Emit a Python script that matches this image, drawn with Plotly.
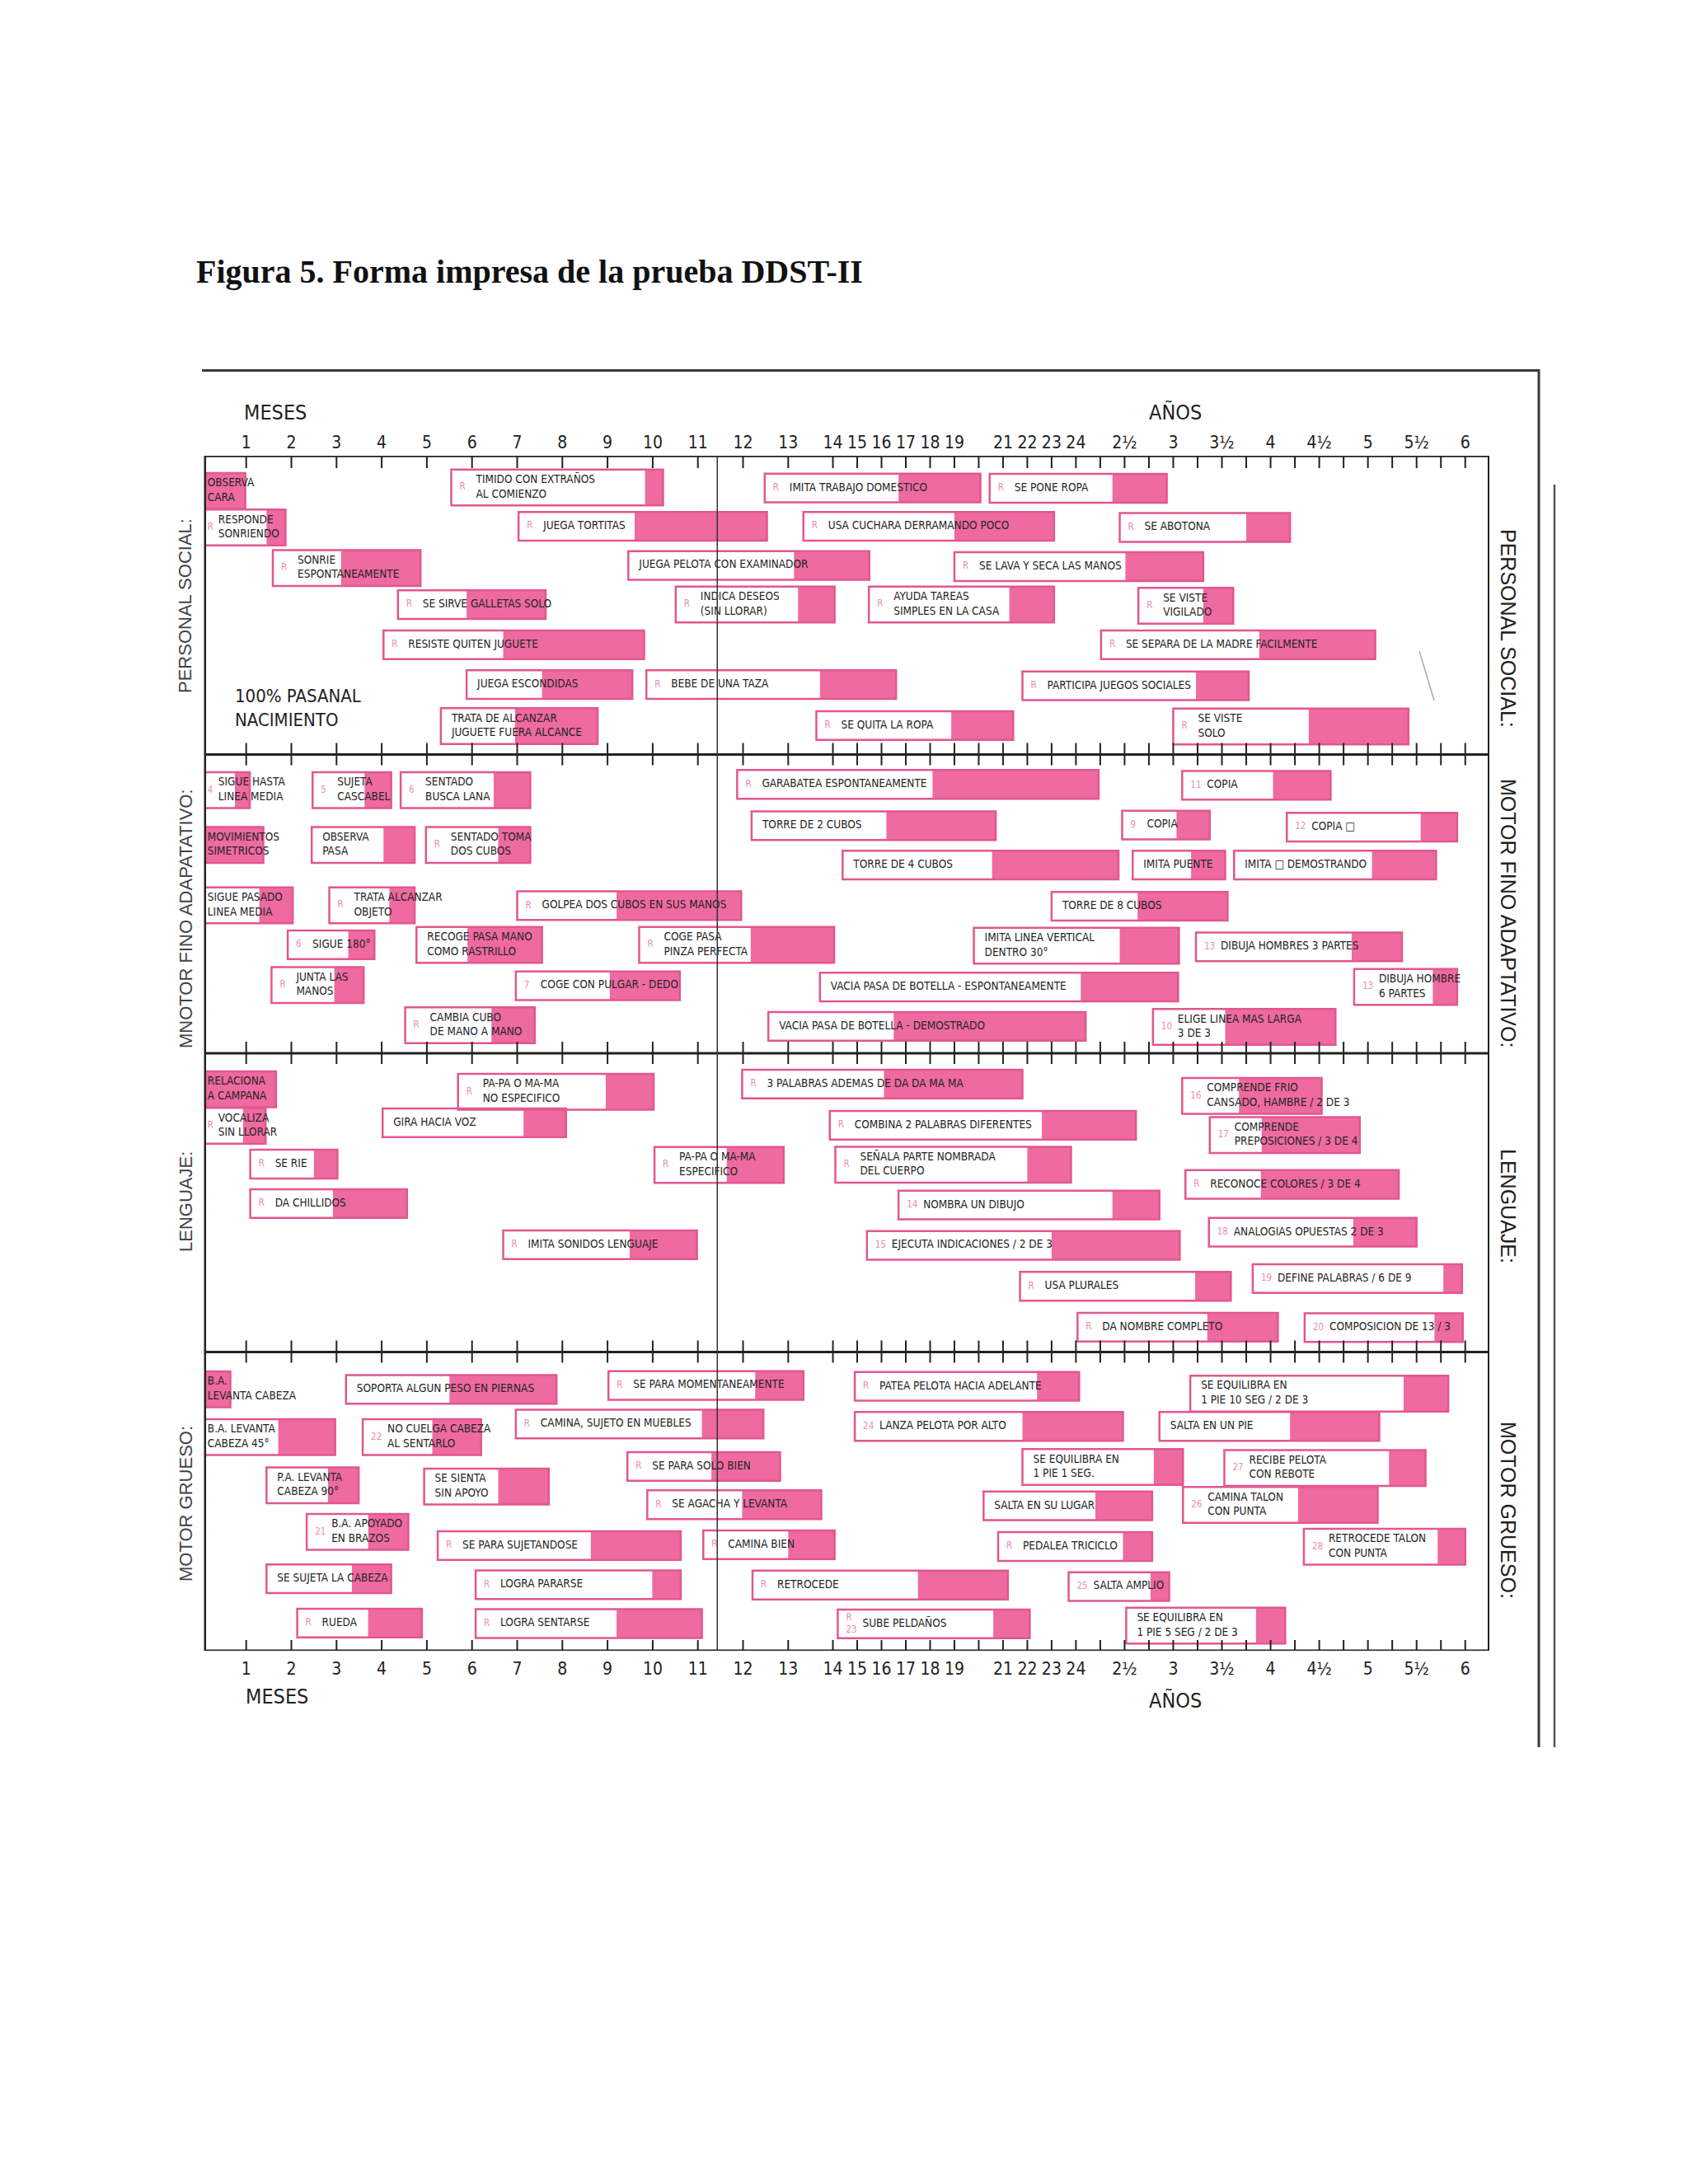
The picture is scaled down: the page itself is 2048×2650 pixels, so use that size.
import numpy as np
import plotly.graph_objects as go

W, H = 2048, 2650

# ---- DDST non-linear age scale (age in months -> axis position) ----
SCALE_AGE = [0, 1, 13, 14, 24, 72]
SCALE_POS = [0.0, 1.0, 13.0, 13.99, 19.37, 27.99]

TICK_AGES = list(range(1, 25)) + list(range(27, 73, 3))
TICK_TEXT = ([str(m) for m in range(1, 20)] + [""] + ["21", "22", "23", "24"] +
             ["", "2½", "", "3", "", "3½", "", "4", "", "4½", "", "5", "", "5½", "", "6"])
AGE_LINE = 11.43

LEFT_NAMES = ["PERSONAL SOCIAL:", "MNOTOR FINO ADAPATATIVO:", "LENGUAJE:", "MOTOR GRUESO:"]
RIGHT_NAMES = ["PERSONAL SOCIAL:", "MOTOR FINO ADAPTATIVO:", "LENGUAJE:", "MOTOR GRUESO:"]

# ---- Personal social ----
PS_LABEL = ["OBSERVA<br>CARA", "RESPONDE<br>SONRIENDO", "SONRIE<br>ESPONTANEAMENTE",
            "SE SIRVE GALLETAS SOLO", "RESISTE QUITEN JUGUETE", "JUEGA ESCONDIDAS",
            "TRATA DE ALCANZAR<br>JUGUETE FUERA ALCANCE", "TIMIDO CON EXTRAÑOS<br>AL COMIENZO",
            "JUEGA TORTITAS", "JUEGA PELOTA CON EXAMINADOR", "INDICA DESEOS<br>(SIN LLORAR)",
            "BEBE DE UNA TAZA", "IMITA TRABAJO DOMESTICO", "USA CUCHARA DERRAMANDO POCO",
            "AYUDA TAREAS<br>SIMPLES EN LA CASA", "SE QUITA LA ROPA", "SE PONE ROPA", "SE ABOTONA",
            "SE LAVA Y SECA LAS MANOS", "SE VISTE<br>VIGILADO", "SE SEPARA DE LA MADRE FACILMENTE",
            "PARTICIPA JUEGOS SOCIALES", "SE VISTE<br>SOLO"]
PS_NOTE = ["", "R", "R", "R", "R", "", "", "R", "R", "", "R", "R", "R", "R", "R", "R",
           "R", "R", "R", "R", "R", "R", "R"]
PS_A25 = [0, 0, 1.59, 4.36, 4.04, 5.88, 5.31, 5.54, 7.03, 9.46, 10.51, 9.86, 12.48, 13.34,
          15.48, 13.63, 20.45, 29.4, 19.0, 31.7, 27.1, 21.8, 36.0]
PS_A75 = [0, 1.45, 3.10, 5.88, 6.69, 7.55, 6.95, 9.83, 9.60, 13.13, 13.22, 13.71, 16.7, 19.0,
          21.26, 18.87, 28.5, 45.0, 30.1, 39.7, 46.6, 38.8, 52.7]
PS_A90 = [0.98, 1.87, 4.86, 7.63, 9.81, 9.55, 8.78, 10.23, 12.53, 15.5, 14.07, 16.6, 20.07, 23.1,
          23.1, 21.42, 35.2, 50.4, 39.7, 43.4, 60.9, 45.3, 65.0]
PS_ROW = [1.18, 2.40, 3.76, 4.98, 6.33, 7.66, 9.05, 1.06, 2.36, 3.67, 4.98, 7.66, 1.08, 2.36,
          4.98, 9.03, 1.09, 2.40, 3.71, 5.02, 6.33, 7.70, 9.06]

# ---- Motor fino adaptativo ----
MF_LABEL = ["SIGUE HASTA<br>LINEA MEDIA", "SUJETA<br>CASCABEL", "SENTADO<br>BUSCA LANA",
            "MOVIMIENTOS<br>SIMETRICOS", "OBSERVA<br>PASA", "SENTADO TOMA<br>DOS CUBOS",
            "SIGUE PASADO<br>LINEA MEDIA", "TRATA ALCANZAR<br>OBJETO", "GOLPEA DOS CUBOS EN SUS MANOS",
            "SIGUE 180°", "RECOGE PASA MANO<br>COMO RASTRILLO", "COGE PASA<br>PINZA PERFECTA",
            "JUNTA LAS<br>MANOS", "COGE CON PULGAR - DEDO", "CAMBIA CUBO<br>DE MANO A MANO",
            "GARABATEA ESPONTANEAMENTE", "TORRE DE 2 CUBOS", "TORRE DE 4 CUBOS",
            "VACIA PASA DE BOTELLA - ESPONTANEAMENTE", "VACIA PASA DE BOTELLA - DEMOSTRADO",
            "COPIA", "COPIA", "COPIA □", "IMITA PUENTE", "IMITA □ DEMOSTRANDO", "TORRE DE 8 CUBOS",
            "IMITA LINEA VERTICAL<br>DENTRO 30°", "DIBUJA HOMBRES 3 PARTES",
            "DIBUJA HOMBRE<br>6 PARTES", "ELIGE LINEA MAS LARGA<br>3 DE 3"]
MF_NOTE = ["4", "5", "6", "", "", "R", "", "R", "R", "6", "", "R", "R", "7", "R", "R", "", "",
           "", "", "11", "9", "12", "", "", "", "", "13", "13", "10"]
MF_A25 = [0, 2.47, 4.42, 0, 2.45, 4.98, 0, 2.84, 7.00, 1.92, 4.77, 9.70, 1.56, 6.97, 4.52,
          11.87, 12.19, 14.4, 13.71, 12.56, 37.1, 29.7, 50.0, 31.0, 43.5, 23.0, 19.8, 38.8, 58.3, 33.5]
MF_A75 = [0.75, 3.62, 6.48, 0, 4.04, 6.58, 1.29, 4.17, 9.20, 3.26, 5.90, 12.17, 2.95, 9.05, 6.43,
          18.1, 16.2, 20.55, 24.6, 16.5, 48.3, 36.4, 66.5, 38.2, 60.5, 31.6, 29.4, 58.0, 68.0, 42.4]
MF_A90 = [1.08, 4.21, 7.29, 1.38, 4.73, 7.29, 2.03, 4.73, 11.96, 3.84, 7.55, 14.05, 3.60, 10.60,
          7.39, 26.8, 20.7, 29.25, 36.6, 25.2, 55.4, 40.5, 71.0, 42.4, 68.4, 42.7, 36.7, 64.2, 71.0, 56.0]
MF_ROW = [11.19, 11.19, 11.19, 13.03, 13.03, 13.03, 15.05, 15.05, 15.06, 16.37, 16.37, 16.37,
          17.72, 17.74, 19.06, 11.00, 12.38, 13.70, 17.78, 19.10, 11.03, 12.36, 12.43, 13.70,
          13.70, 15.08, 16.40, 16.44, 17.78, 19.12]

# ---- Lenguaje ----
LG_LABEL = ["RELACIONA<br>A CAMPANA", "VOCALIZA<br>SIN LLORAR", "SE RIE", "DA CHILLIDOS",
            "PA-PA O MA-MA<br>NO ESPECIFICO", "GIRA HACIA VOZ", "PA-PA O MA-MA<br>ESPECIFICO",
            "IMITA SONIDOS LENGUAJE", "3 PALABRAS ADEMAS DE DA DA MA MA",
            "COMBINA 2 PALABRAS DIFERENTES", "SEÑALA PARTE NOMBRADA<br>DEL CUERPO",
            "NOMBRA UN DIBUJO", "EJECUTA INDICACIONES / 2 DE 3", "USA PLURALES",
            "DA NOMBRE COMPLETO", "COMPRENDE FRIO<br>CANSADO, HAMBRE / 2 DE 3",
            "COMPRENDE<br>PREPOSICIONES / 3 DE 4", "RECONOCE COLORES / 3 DE 4",
            "ANALOGIAS OPUESTAS 2 DE 3", "DEFINE PALABRAS / 6 DE 9", "COMPOSICION DE 13 / 3"]
LG_NOTE = ["", "R", "R", "R", "R", "", "R", "R", "R", "R", "R", "14", "15", "R", "R", "16",
           "17", "R", "18", "19", "20"]
LG_A25 = [0, 0, 1.09, 1.09, 5.69, 4.02, 10.04, 6.69, 11.98, 13.93, 14.1, 16.7, 15.4, 21.7,
          24.2, 37.1, 40.5, 37.5, 40.4, 45.8, 52.2]
LG_A75 = [0, 0.93, 2.50, 2.92, 8.96, 7.14, 11.64, 9.49, 16.1, 22.6, 22.0, 28.5, 23.0, 38.7,
          40.2, 44.1, 46.9, 46.8, 58.2, 69.3, 68.2]
LG_A90 = [1.66, 1.43, 3.02, 4.56, 10.02, 8.08, 12.90, 10.98, 21.8, 31.4, 23.8, 34.3, 36.8,
          43.1, 48.9, 54.3, 59.0, 63.8, 66.0, 71.6, 71.7]
LG_ROW = [21.21, 22.43, 23.71, 25.03, 21.29, 22.33, 23.74, 26.41, 21.03, 22.41, 23.73, 25.08,
          26.43, 27.80, 29.17, 21.43, 22.74, 24.39, 25.99, 27.54, 29.18]

# ---- Motor grueso ----
MG_LABEL = ["B.A.<br>LEVANTA CABEZA", "B.A. LEVANTA<br>CABEZA 45°", "P.A. LEVANTA<br>CABEZA 90°",
            "B.A. APOYADO<br>EN BRAZOS", "SE SUJETA LA CABEZA", "RUEDA",
            "SOPORTA ALGUN PESO EN PIERNAS", "NO CUELGA CABEZA<br>AL SENTARLO",
            "SE SIENTA<br>SIN APOYO", "SE PARA SUJETANDOSE", "LOGRA PARARSE", "LOGRA SENTARSE",
            "SE PARA MOMENTANEAMENTE", "CAMINA, SUJETO EN MUEBLES", "SE PARA SOLO BIEN",
            "SE AGACHA Y LEVANTA", "CAMINA BIEN", "RETROCEDE", "SUBE PELDAÑOS",
            "PATEA PELOTA HACIA ADELANTE", "LANZA PELOTA POR ALTO", "SE EQUILIBRA EN<br>1 PIE 1 SEG.",
            "SALTA EN SU LUGAR", "PEDALEA TRICICLO", "SALTA AMPLIO",
            "SE EQUILIBRA EN<br>1 PIE 5 SEG / 2 DE 3", "SE EQUILIBRA EN<br>1 PIE 10 SEG / 2 DE 3",
            "SALTA EN UN PIE", "RECIBE PELOTA<br>CON REBOTE", "CAMINA TALON<br>CON PUNTA",
            "RETROCEDE TALON<br>CON PUNTA"]
MG_NOTE = ["", "", "", "21", "", "R", "", "22", "", "R", "R", "R", "R", "R", "R", "R", "R", "R",
           "R<br>23", "R", "24", "", "", "R", "25", "", "", "", "27", "26", "28"]
MG_A25 = [0, 0, 1.45, 2.34, 1.45, 2.13, 3.21, 3.58, 4.94, 5.24, 6.08, 6.08, 9.02, 6.97, 9.44,
          9.88, 11.12, 12.21, 14.2, 14.9, 14.9, 21.8, 20.2, 20.8, 23.7, 30.2, 38.1, 34.3, 42.3,
          37.2, 52.1]
MG_A75 = [0, 1.71, 2.81, 3.70, 3.34, 3.70, 5.50, 5.12, 6.58, 8.63, 9.99, 9.20, 12.27, 11.09,
          11.30, 11.98, 13.00, 17.5, 20.6, 22.4, 21.8, 33.6, 26.4, 29.8, 33.2, 46.2, 64.4, 50.4,
          62.6, 51.4, 68.6]
MG_A90 = [0.65, 2.97, 3.49, 4.59, 4.21, 4.89, 7.87, 6.20, 7.70, 10.62, 10.62, 11.09, 13.34,
          12.45, 12.82, 13.74, 14.07, 21.2, 22.1, 24.4, 29.8, 37.2, 33.4, 33.4, 35.5, 49.8, 69.9,
          61.4, 67.1, 61.2, 72.0]
MG_ROW = [31.25, 32.85, 34.46, 36.02, 37.59, 39.07, 31.25, 32.85, 34.50, 36.48, 37.79, 39.09,
          31.12, 32.41, 33.83, 35.11, 36.45, 37.80, 39.10, 31.15, 32.49, 33.85, 35.15, 36.51,
          37.85, 39.16, 31.39, 32.49, 33.88, 35.12, 36.52]

# ---------------- drawing ----------------
PINK = "#EE6AA0"
PINK_LINE = "#E2578E"
NOTE_PINK = "#E88DB2"
INK = "#262626"
COND = "Liberation Sans Narrow, Arial Narrow, DejaVu Sans Condensed, sans-serif"
SANS = "Liberation Sans, Arial, sans-serif"
SERIF = "Liberation Serif, Times New Roman, serif"

OFF = 8.0                          # page body margin of the html file
PX0, PX1 = 248.8, 1806.0           # plot left/right in page px
PY0, PY1 = 553.0, 2003.0           # plot top/bottom in page px
X0 = (PX0 - 243.9) / 54.8
X1 = (PX1 - 243.9) / 54.8
PXU = (PX1 - PX0) / (X1 - X0)      # px per x unit
YMAX = 40.0


def pos(a):
    return np.interp(np.asarray(a, dtype=float), SCALE_AGE, SCALE_POS)


def px(x):
    return (x - OFF) / W


def py(y):
    return 1 - (y - OFF) / H


labels = PS_LABEL + MF_LABEL + LG_LABEL + MG_LABEL
notes = PS_NOTE + MF_NOTE + LG_NOTE + MG_NOTE
a25 = np.array(PS_A25 + MF_A25 + LG_A25 + MG_A25)
a75 = np.array(PS_A75 + MF_A75 + LG_A75 + MG_A75)
a90 = np.array(PS_A90 + MF_A90 + LG_A90 + MG_A90)
rows = np.array(PS_ROW + MF_ROW + LG_ROW + MG_ROW)

p25, p75, p90 = pos(a25), pos(a75), pos(a90)
heights = np.array([1.2 if "<br>" in l else 0.96 for l in labels])

fig = go.Figure()
fig.add_trace(go.Bar(orientation="h", y=rows, base=p25, x=p90 - p25, width=heights,
                     marker=dict(color="white", line=dict(width=0)), hoverinfo="skip"))
fig.add_trace(go.Bar(orientation="h", y=rows, base=p75, x=p90 - p75, width=heights,
                     marker=dict(color=PINK, line=dict(width=0)), hoverinfo="skip"))
fig.add_trace(go.Bar(orientation="h", y=rows, base=p25, x=p90 - p25, width=heights,
                     marker=dict(color="rgba(0,0,0,0)", line=dict(width=2.5, color=PINK_LINE)),
                     hoverinfo="skip"))

start_vis = np.maximum(p25, X0)
lab_x, note_x, note_t, note_y = [], [], [], []
for i, l in enumerate(labels):
    if a25[i] <= 0:
        off, noff = (16, 3) if notes[i] else (3, 0)
    elif notes[i]:
        off, noff = 30, 10
    else:
        off, noff = 13, 0
    lab_x.append(start_vis[i] + off / PXU)
    if notes[i]:
        note_x.append(start_vis[i] + noff / PXU)
        note_t.append(notes[i])
        note_y.append(rows[i])

fig.add_trace(go.Scatter(x=lab_x, y=rows, mode="text", text=labels, textposition="middle right",
                         textfont=dict(family=COND, size=13.5, color=INK), hoverinfo="skip",
                         cliponaxis=False))
fig.add_trace(go.Scatter(x=note_x, y=note_y, mode="text", text=note_t, textposition="middle right",
                         textfont=dict(family=COND, size=11.5, color=NOTE_PINK), hoverinfo="skip",
                         cliponaxis=False))

# ticks
tp = pos(TICK_AGES)


def seg(ya, yb):
    xs, ys = [], []
    for t in tp:
        xs += [t, t, None]
        ys += [ya, yb, None]
    return xs, ys


tl = 1.0 / 36.25
for ya, yb in [(0, 15 * tl)] + [(s - 14 * tl, s + 13 * tl) for s in (10, 20, 30)] + [(YMAX - 13 * tl, YMAX)]:
    xs, ys = seg(ya, yb)
    fig.add_trace(go.Scatter(x=xs, y=ys, mode="lines", line=dict(color="#222", width=2),
                             hoverinfo="skip", cliponaxis=False))

fig.add_trace(go.Scatter(x=[tp[0]], y=[0], xaxis="x2", mode="markers",
                         marker=dict(opacity=0), hoverinfo="skip"))

shapes = []
for yv, w in [(0, 3.5), (10, 3), (20, 3), (30, 3), (YMAX, 3)]:
    shapes.append(dict(type="line", xref="x domain", yref="y", x0=0, x1=1, y0=yv, y1=yv,
                       line=dict(color="#222", width=w)))
shapes.append(dict(type="line", xref="x domain", yref="y", x0=0, x1=0, y0=0, y1=YMAX,
                   line=dict(color="#222", width=2.5)))
shapes.append(dict(type="line", xref="x domain", yref="y", x0=1, x1=1, y0=0, y1=YMAX,
                   line=dict(color="#222", width=2)))
shapes.append(dict(type="line", xref="x", yref="y", x0=float(pos(AGE_LINE)), x1=float(pos(AGE_LINE)),
                   y0=0, y1=YMAX, line=dict(color="#333", width=1.5)))

shapes.append(dict(type="line", xref="paper", yref="paper", x0=px(245), x1=px(1868),
                   y0=py(449.5), y1=py(449.5), line=dict(color="#3a3a3a", width=3)))
shapes.append(dict(type="line", xref="paper", yref="paper", x0=px(1867), x1=px(1867),
                   y0=py(448), y1=py(2120), line=dict(color="#3a3a3a", width=3)))
shapes.append(dict(type="line", xref="paper", yref="paper", x0=px(1886), x1=px(1886),
                   y0=py(588), y1=py(2120), line=dict(color="#555", width=2.5)))
shapes.append(dict(type="line", xref="paper", yref="paper", x0=px(1722), x1=px(1740),
                   y0=py(790), y1=py(850), line=dict(color="#aaa", width=1.5)))

ann = []


def add_ann(**kw):
    kw.setdefault("xref", "paper")
    kw.setdefault("yref", "paper")
    kw.setdefault("showarrow", False)
    ann.append(kw)


add_ann(text="<b>Figura 5. Forma impresa de la prueba DDST-II</b>", x=px(236), y=py(329),
        xanchor="left", yanchor="middle", font=dict(family=SERIF, size=40, color="#111"))
for t, x, y, xa in [("MESES", 294, 500, "left"), ("AÑOS", 1426, 500, "center"),
                    ("MESES", 296, 2058, "left"), ("AÑOS", 1426, 2063, "center")]:
    add_ann(text=t, x=px(x), y=py(y), xanchor=xa, yanchor="middle",
            font=dict(family=COND, size=25, color="#222"))
add_ann(text="100% PASANAL<br>NACIMIENTO", x=px(283), y=py(859), xanchor="left",
        yanchor="middle", align="left", font=dict(family=COND, size=22, color="#222"))
for name, yc in zip(LEFT_NAMES, [735, 1115, 1458, 1825]):
    add_ann(text=name, x=px(225), y=py(yc), xanchor="center", yanchor="middle",
            textangle=-90, font=dict(family=SANS, size=22, color="#444"))
for name, yc in zip(RIGHT_NAMES, [762, 1108, 1463, 1832]):
    add_ann(text=name, x=px(1830), y=py(yc), xanchor="center", yanchor="middle",
            textangle=90, font=dict(family=SANS, size=25, color="#222"))

axis_common = dict(range=[X0, X1], tickvals=list(tp), ticktext=TICK_TEXT, ticks="",
                   showgrid=False, zeroline=False, showline=False,
                   tickfont=dict(family=COND, size=21, color="#222"))
fig.update_layout(
    width=W, height=H, margin=dict(l=0, r=0, t=0, b=0),
    paper_bgcolor="white", plot_bgcolor="white", showlegend=False, barmode="overlay",
    xaxis=dict(domain=[px(PX0), px(PX1)], side="bottom", anchor="y", ticklabelstandoff=7,
               **axis_common),
    xaxis2=dict(domain=[px(PX0), px(PX1)], side="top", overlaying="x", anchor="y",
                matches="x", ticklabelstandoff=4, **axis_common),
    yaxis=dict(domain=[py(PY1), py(PY0)], range=[YMAX, 0], showgrid=False,
               zeroline=False, showticklabels=False, ticks="", showline=False),
    shapes=shapes, annotations=ann,
)
fig.write_html("out.html")
